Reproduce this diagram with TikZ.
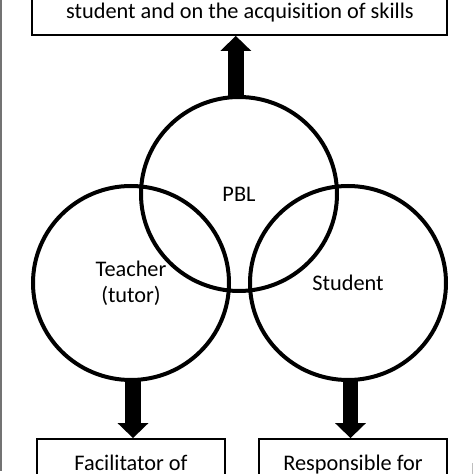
\documentclass[tikz,border=0pt]{standalone}
\usepackage{fontspec}
\setmainfont{Carlito}[Ligatures=NoCommon]
\usetikzlibrary{arrows.meta,shapes.geometric}
\begin{document}
\begin{tikzpicture}[x=1pt,y=1pt,
  lbl/.style={font=\fontsize{22.3}{26}\selectfont},
  venn/.style={ellipse, draw, line width=4pt, minimum width=196pt, minimum height=194pt, inner sep=0pt, align=center, lbl},
  box/.style={draw, line width=1.8pt, inner sep=0pt, fill=none},
  fat/.style={line width=15.5pt, -{Triangle[width=30pt,length=15pt]}},
  edge/.style={draw=black!55, line width=2.5pt}
]
\useasboundingbox (0,0) rectangle (474,474);
\clip (0,0) rectangle (474,474);
% frame edge remnants
\coordinate (e1) at (1.2,474);
\coordinate (e2) at (1.2,2.5);
\draw[edge] (e1) -- (e2);
\coordinate (e3) at (472.8,11);
\coordinate (e4) at (472.8,0);
\draw[draw=black!25, line width=1pt] (e3) -- (e4);
% boxes
\node[box, minimum width=415pt, minimum height=100pt, anchor=south] (top) at (239.5,438.1) {};
\node[lbl, anchor=base] (toptext) at (240,455.5) {student and on the acquisition of skills};
\node[box, minimum width=188pt, minimum height=60pt, anchor=north] (lbox) at (131,35.9) {};
\node[box, minimum width=188pt, minimum height=60pt, anchor=north] (rbox) at (353,35.9) {};
\node[lbl, anchor=base] (ltext) at (131,4) {Facilitator of};
\node[lbl, anchor=base] (rtext) at (353,4) {Responsible for};
% circles
\node[venn] (pbl) at (239,280) {PBL};
\node[venn] (teacher) at (131,191) {Teacher\\(tutor)};
\node[venn] (student) at (348,191) {Student};
% arrows
\draw[fat] ([xshift=-3.2pt,yshift=-2pt]pbl.north) -- ([xshift=-3.2pt]pbl.north |- top.south);
\draw[fat] ([xshift=2pt,yshift=2pt]teacher.south) -- ([xshift=2pt]teacher.south |- lbox.north);
\draw[fat] ([xshift=2.5pt,yshift=2pt]student.south) -- ([xshift=2.5pt]student.south |- rbox.north);
\end{tikzpicture}
\end{document}
